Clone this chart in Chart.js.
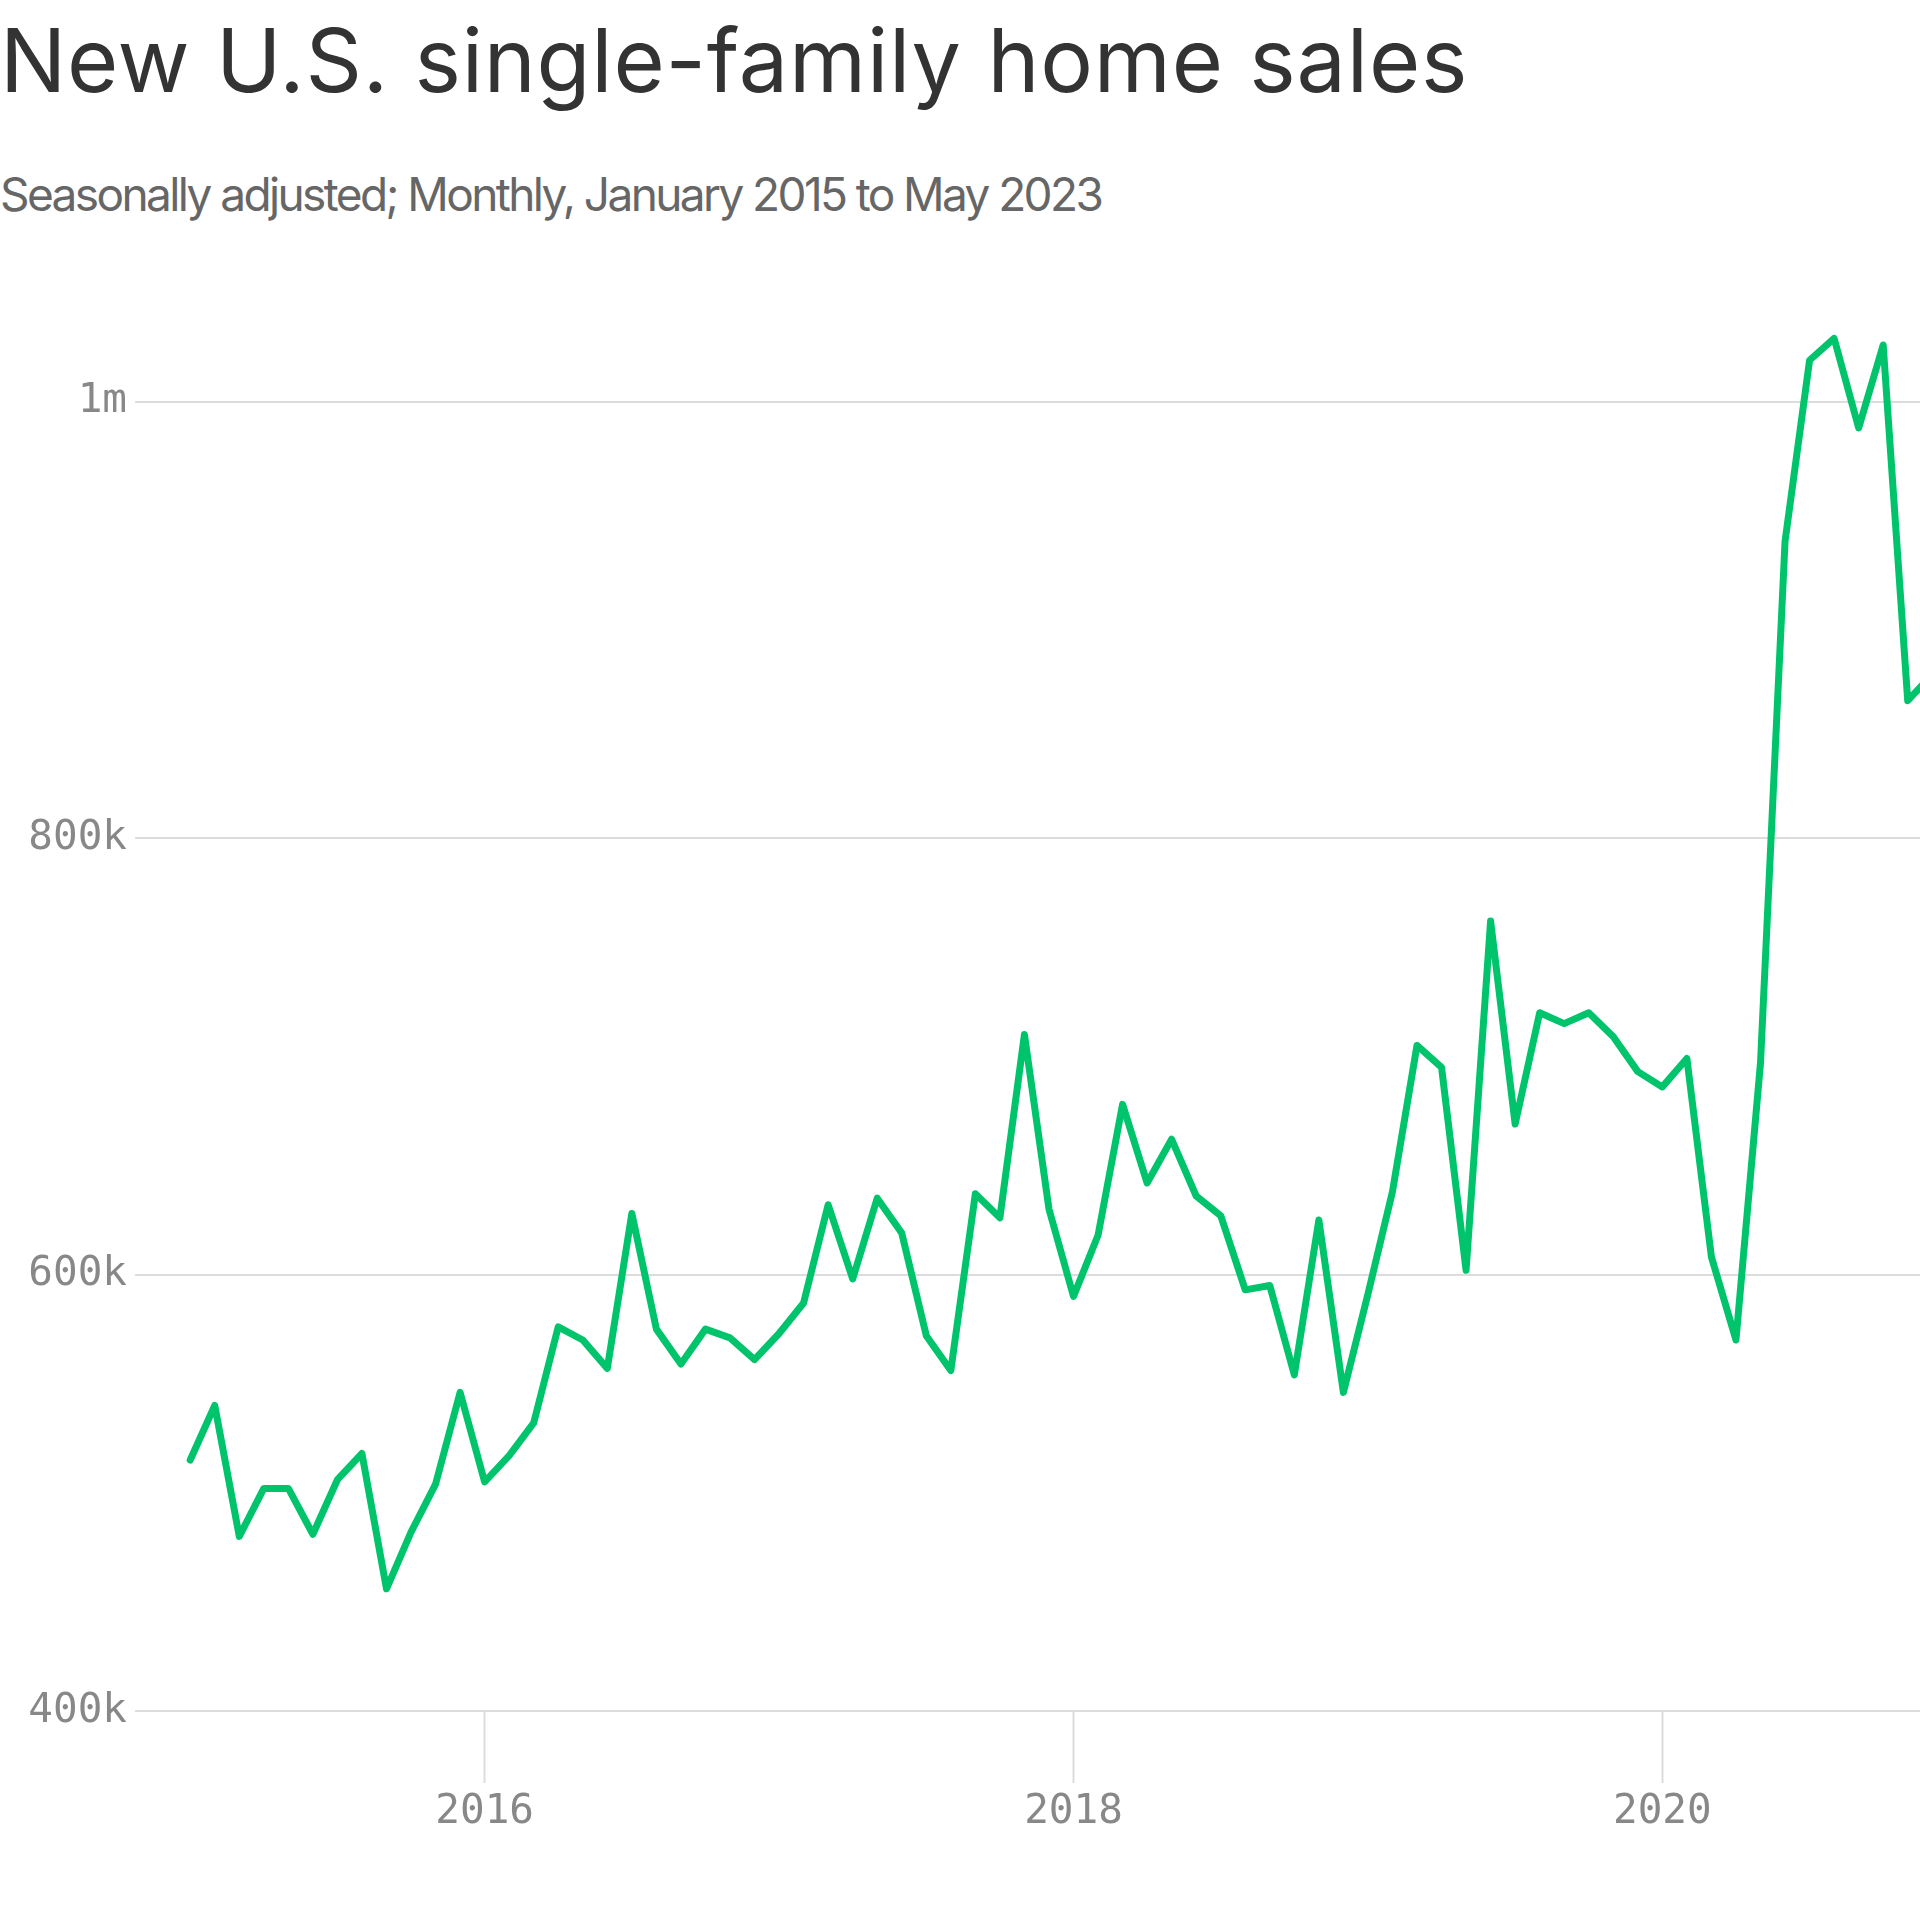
<!DOCTYPE html>
<html>
<head>
<meta charset="utf-8">
<script src="https://cdn.jsdelivr.net/npm/chart.js@4.4.0/dist/chart.umd.min.js"></script>
<style>
  html, body { margin: 0; padding: 0; background: #fff; width: 1920px; height: 1920px; overflow: hidden; }
  #title { position: absolute; left: 0; top: 16px; font-family: Inter, "Noto Sans", sans-serif; font-size: 88px; line-height: 88px; color: #333; white-space: nowrap; letter-spacing: 0.8px; }
  #subtitle { position: absolute; left: 0; top: 171px; font-family: Inter, "Noto Sans", sans-serif; font-size: 46px; line-height: 46px; color: #666; white-space: nowrap; letter-spacing: -2.6px; }
  #chart-box { position: absolute; left: 0; top: 260px; width: 2720px; height: 1660px; }
</style>
</head>
<body>
<div id="title">New U.S. single-family home sales</div>
<div id="subtitle">Seasonally adjusted; Monthly, January 2015 to May 2023</div>
<div id="chart-box"><canvas id="sales"></canvas></div>
<script>
// month index 0 = Jan 2015; values in thousands (SAAR)
const sales2015 = [515, 540, 480, 502, 502, 481, 506, 518, 456, 482, 504, 546];
const sales2016 = [505, 517, 532, 576, 570, 557, 628, 575, 559, 575, 571, 561];
const sales2017 = [573, 587, 632, 598, 635, 619, 572, 556, 637, 626, 710, 630];
const sales2018 = [590, 618, 678, 642, 662, 636, 627, 593, 595, 554, 625, 546];
const sales2019 = [591, 638, 705, 695, 602, 762, 669, 720, 715, 720, 709, 693];
const sales2020 = [686, 699, 608, 570, 697, 936, 1019, 1029, 988, 1026, 863, 875];

const yearTicks = [12, 36, 60, 84];
const yearLabels = ["2016", "2018", "2020", "2022"];
const yTicks = [400000, 600000, 800000, 1000000];
const yLabels = ["400k", "600k", "800k", "1m"];

const allSales = [].concat(sales2015, sales2016, sales2017, sales2018, sales2019, sales2020);
const points = allSales.map((v, i) => ({ x: i, y: v * 1000 }));

const config = {
  type: "line",
  data: {
    datasets: [
      {
        label: "New single-family home sales",
        data: points,
        borderColor: "rgb(0, 196, 108)",
        borderWidth: 7,
        borderJoinStyle: "round",
        borderCapStyle: "round",
        pointRadius: 0,
        tension: 0,
        fill: false,
      },
    ],
  },
  options: {
    responsive: true,
    maintainAspectRatio: false,
    animation: false,
    layout: { padding: { top: 10, right: 21, bottom: 79, left: 0 } },
    scales: {
      x: {
        type: "linear",
        min: -2.25,
        max: 102.25,
        afterBuildTicks: (scale) => {
          scale.ticks = yearTicks.map((v) => ({ value: v }));
        },
        afterFit: (scale) => {
          scale.height = 130;
        },
        grid: {
          drawOnChartArea: false,
          drawTicks: true,
          tickLength: 72,
          tickWidth: 2,
          tickColor: "#dcdcdc",
        },
        border: { display: false },
        ticks: {
          autoSkip: false,
          maxRotation: 0,
          padding: 5,
          color: "#888",
          font: { family: "DejaVu Sans Mono", size: 41 },
          callback: (v) => yearLabels[yearTicks.indexOf(v)],
        },
      },
      y: {
        type: "linear",
        min: 400000,
        max: 1050000,
        afterBuildTicks: (scale) => {
          scale.ticks = yTicks.map((v) => ({ value: v }));
        },
        afterFit: (scale) => {
          scale.width = 135;
        },
        grid: {
          drawTicks: false,
          color: "#dcdcdc",
          lineWidth: 2,
        },
        border: { display: false },
        ticks: {
          padding: 8,
          color: "#888",
          font: { family: "DejaVu Sans Mono", size: 41 },
          callback: (v) => yLabels[yTicks.indexOf(v)],
        },
      },
    },
    plugins: {
      legend: { display: false },
      tooltip: { enabled: false },
    },
  },
};

const ctx = document.getElementById("sales").getContext("2d");
const salesChart = new Chart(ctx, config);
</script>
</body>
</html>
